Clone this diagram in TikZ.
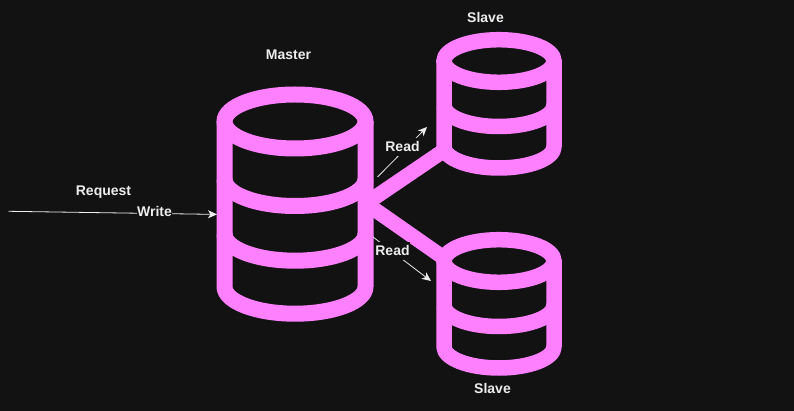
\documentclass[tikz,border=0pt]{standalone}
\usepackage{fontspec}
\setmainfont{Liberation Sans}
\usetikzlibrary{arrows.meta}
\definecolor{bgdark}{HTML}{121212}
\definecolor{dbpink}{HTML}{FF80FF}
\definecolor{textgrey}{HTML}{EDEDED}
\begin{document}
\begin{tikzpicture}[x=1pt,y=-1pt,
        masterdb/.style={draw=dbpink,line width=16pt},
        slavedb/.style={draw=dbpink,line width=15.5pt},
        link/.style={draw=dbpink,line width=15pt},
        flow/.style={draw=textgrey,line width=0.8pt,-{Stealth[length=9pt,width=8pt,inset=2.5pt]}},
        dbtitle/.style={text=textgrey,font=\fontsize{14}{17}\selectfont\bfseries,inner sep=0pt,anchor=base},
        lbl/.style={dbtitle,fill=bgdark,text height=14pt,text depth=4pt}]
\fill[bgdark] (0,0) rectangle (794,411);
\useasboundingbox (0,0) rectangle (794,411);

% thick links between the databases
\coordinate (hub) at (366,203.5);
\coordinate (upperend) at (444,150.5);
\coordinate (lowerend) at (444,258);
\draw[link] (hub) -- (upperend);
\draw[link] (hub) -- (lowerend);

% master
\draw[masterdb] (295,121.5) ellipse[x radius=70.5pt,y radius=27pt];
\draw[masterdb,line join=round] (224.5,121.5) -- (224.5,286.7)
    arc[start angle=180,end angle=360,x radius=70.5pt,y radius=27pt] -- (365.5,121.5);
\draw[masterdb] (224.5,179) arc[start angle=180,end angle=360,x radius=70.5pt,y radius=27pt];
\draw[masterdb] (224.5,233.7) arc[start angle=180,end angle=360,x radius=70.5pt,y radius=27pt];

% the two slaves
\foreach \dy in {0,200}{
    \draw[slavedb,yshift=-\dy pt] (499,61) ellipse[x radius=55pt,y radius=21.3pt];
    \draw[slavedb,yshift=-\dy pt,line join=round] (444,61) -- (444,146.7)
        arc[start angle=180,end angle=360,x radius=55pt,y radius=21.3pt] -- (554,61);
    \draw[slavedb,yshift=-\dy pt] (444,105.2) arc[start angle=180,end angle=360,x radius=55pt,y radius=21.3pt];
}

% request arrows
\coordinate (reqstart) at (8.5,211.3);
\coordinate (reqend) at (217,214.4);
\coordinate (upstart) at (377.5,177);
\coordinate (upend) at (427,127);
\coordinate (downstart) at (373,237);
\coordinate (downend) at (431,281);
\draw[flow] (reqstart) -- (reqend);
\draw[flow] (upstart) -- (upend);
\draw[flow] (downstart) -- (downend);

\node[dbtitle] (master) at (288.5,60) {Master};
\node[dbtitle] (slavetop) at (485.5,23) {Slave};
\node[dbtitle] (slavebottom) at (492.5,393.3) {Slave};
\node[dbtitle] (request) at (103.5,195.7) {Request};
\node[lbl] (write) at (154.5,216.7) {Write};
\node[lbl] (readup) at (402.5,151.7) {Read};
\node[lbl] (readdown) at (392.5,256) {Read};
\end{tikzpicture}
\end{document}
